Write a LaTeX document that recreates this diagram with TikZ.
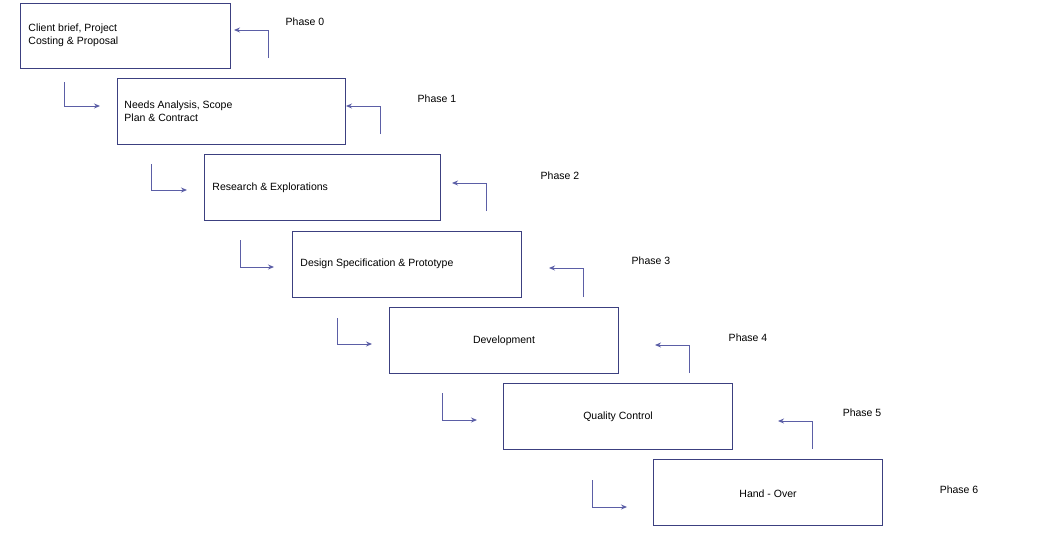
\documentclass[tikz,border=0pt]{standalone}
\usepackage{fontspec}
\setmainfont{Liberation Sans}
\usetikzlibrary{arrows.meta}
\definecolor{arr}{HTML}{5B5EA6}
\definecolor{bx}{HTML}{3C4080}
\begin{document}
\begin{tikzpicture}[x=1pt,y=-1pt,
  box/.style={draw=bx,line width=0.9pt,inner sep=0pt,font=\fontsize{10.5}{13}\selectfont},
  con/.style={draw=arr,line width=0.9pt,-{Stealth[length=6pt,width=5pt]}},
  ph/.style={font=\fontsize{10.5}{13}\selectfont,anchor=center}]
\useasboundingbox (0,0) rectangle (1048,551);
\foreach \n/\a/\b/\c/\d in {b0/20/3/230/68,b1/117/78/345/144,b2/204/154/440/220,b3/292/231/521/297,b4/389/307/618/373,b5/503/383/732/449,b6/653/459/882/525}
  {\path[box] (\a,\b) rectangle (\c,\d); \coordinate (\n nw) at (\a,\b);}
\node[box,draw=none,align=left,anchor=west] (t0) at (28,35) {Client brief, Project\\Costing \& Proposal};
\node[box,draw=none,align=left,anchor=west] (t1) at (124,111) {Needs Analysis, Scope\\Plan \& Contract};
\node[box,draw=none,anchor=west] (t2) at (212,188) {Research \& Explorations};
\node[box,draw=none,anchor=west] (t3) at (300,264) {Design Specification \& Prototype};
\node[box,draw=none] (t4) at (504,341) {Development};
\node[box,draw=none] (t5) at (618,417) {Quality Control};
\node[box,draw=none] (t6) at (768,494) {Hand - Over};
% forward arrows
\foreach \x/\y/\yy/\xx in {64/82/106/100,151/164/190/187,240/240/267/274,337/318/344/372,442/393/420/477,592/480/507/627}
  {\coordinate (s) at (\x,\y); \coordinate (e) at (\xx,\yy); \draw[con] (s) |- (e);}
% feedback arrows
\foreach \x/\y/\yy/\xx in {268/58/30/234,380/134/106/346,486/211/183/452,583/297/268/549,689/373/345/655,812/449/421/778}
  {\coordinate (s) at (\x,\y); \coordinate (e) at (\xx,\yy); \draw[con] (s) |- (e);}
\node[ph] (p0) at (305,22) {Phase 0};
\node[ph] (p1) at (437,99) {Phase 1};
\node[ph] (p2) at (560,176) {Phase 2};
\node[ph] (p3) at (651,261) {Phase 3};
\node[ph] (p4) at (748,338) {Phase 4};
\node[ph] (p5) at (862,413) {Phase 5};
\node[ph] (p6) at (959,490) {Phase 6};
\end{tikzpicture}
\end{document}
